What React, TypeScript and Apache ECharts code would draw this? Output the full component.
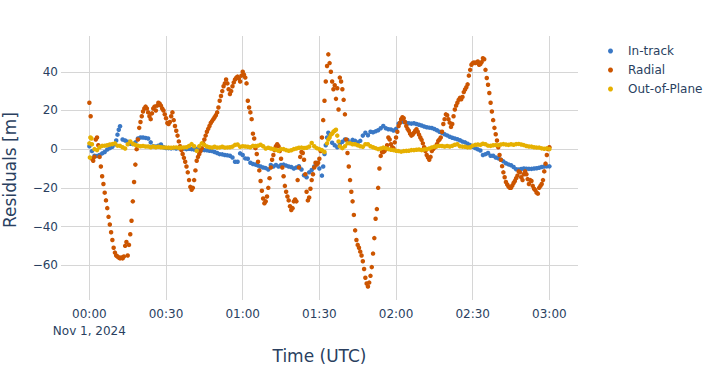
import React, { useEffect, useRef } from "react";
import * as echarts from "echarts";

// Time is in minutes after 2024-11-01 00:00 UTC
const seriesNames = ["In-track", "Radial", "Out-of-Plane"];
const seriesColors = ["#3a78c5", "#cc5500", "#e6b000"];
const xTickMinutes = [0, 30, 60, 90, 120, 150, 180];
const xTickLabels = ["00:00\nNov 1, 2024", "00:30", "01:00", "01:30", "02:00", "02:30", "03:00"];
const yTickValues = [-60, -40, -20, 0, 20, 40];

// In-track residuals, one sample per minute from 00:00
const inTrackValues = [
  1.5, -1, -3.4, -3.5, -3, -2.2, -1.5, -0.2, 0.5, 1.2,
  2.5, 7.5, 11.8, 5, 4.5, 3.8, 2.8, 2.6, 3.5, 5.5,
  6, 6, 5.8, 5.5, 3.5, 1.5, 1.3, 1.8, 2.4, 1,
  0.6, 0.5, 0.4, 0.6, 0.3, 0.5, 0.2, 0.3, 0, 0.2,
  0, -0.2, 0, -0.3, -0.4, -0.5, -0.6, -0.8, -1, -1.5,
  -2, -2.6, -2.7, -3, -3.2, -3.4, -4.3, -6.5, -6.5, -2.2,
  -3, -4.8, -5, -7, -7.7, -8, -8.5, -9, -9.5, -9.8,
  -10.5, -8.2, -9, -8.2, -9, -8.2, -8, -8.5, -9, -9.2,
  -10, -9.5, -8.8, -10.5, -13.5, -14.5, -12, -10.8, -9, -7.2,
  -10, -13.7, -2.5, 6, 7.7, 3.3, 2, 1, 2.5, 3.8,
  5, 4.7, 3.4, 4.8, 4.3, 3.4, 4.3, 7, 8.5, 7.2,
  9, 8.7, 9.2, 9.8, 10.8, 12, 10.8, 10.3, 10.2, 9.6,
  10.5, 13.2, 14.5, 14, 13.6, 13.4, 13.2, 13.4, 13, 12.6,
  12.2, 11.7, 11.3, 11.1, 10.9, 10.4, 9.8, 9, 8.4, 7.7,
  7.1, 6.4, 5.9, 5.5, 5.1, 4.6, 3.9, 3.5, 2.8, 2.1,
  1.2, 0.5, -0.1, -0.7, -3, -2.6, -2, -3.4, -3.4, -4.3,
  -4.7, -5.5, -6.3, -7.3, -7.9, -8.3, -9.2, -10.4, -10.5, -10.3,
  -10, -10.1, -10.2, -10.2, -10, -9.9, -9.6, -9.2, -9, -8.9, -8.9,
];
const inTrackExtraMinutes = [10.5, 11.5, 91.5, 92.5, 93.5];
const inTrackExtraValues = [4.5, 10, -9, 2, 8.5];

// Radial residuals, one sample per half minute from 00:00
const radialValues = [
  24, 17, -5, -6, -4, 5, 6, 2, -4, -9, -14, -18, -22.5, -26.5, -30.5, -35, -39, -43, -47, -51,
  -53.5, -55, -55.5, -56, -56.5, -56, -56.5, -55.5, -50, -48, -55, -49.5, -44, -37, -27, -17, -8, 0, 5, 11,
  14, 17, 19.5, 21, 22, 21, 19, 17, 15.5, 18.5, 21, 22, 20, 22.5, 24, 23.5, 22.5, 21, 20, 18,
  16, 13.5, 13, 14, 17, 19, 15, 12, 9.5, 7, 4, 1.5, -0.5, -2.5, -4.5, -6.5, -9, -12, -16, -19.5,
  -21, -20, -16, -11, -6, -4, -2.5, -1, 0.5, 3, 5, 7, 9, 10.5, 12, 13.5, 14.5, 15.5, 16.5, 17.5,
  19, 21.5, 25, 27.5, 30, 32.5, 34, 36, 34, 31, 28.5, 30, 32.5, 34.5, 36, 37, 37.5, 36.5, 35, 38,
  40, 38.5, 37, 34, 25, 21.5, 19, 15.5, 8, 5.5, 0.5, -2.5, -6.5, -11, -16.5, -21.5, -25.5, -28, -27, -24.5,
  -20, -15, -9.5, -5.5, -3, -0.5, 1.5, 2.5, 1.5, -1, -5, -9.5, -14, -19, -22, -24.5, -26.5, -29.5, -31.5, -30.5,
  -27, -26, -27, -16, -9.5, -4, -1.5, -2, -5.5, -13, -22, -26.5, -25, -20.5, -16, -13, -9.5, -7, -8, -7,
  -5, -1, 6, 15, 25, 35, 43, 49, 44.5, 40, 35, 31, 33, 26, 31.5, 20.5, 37, 35, 31, 25.5,
  18, 5, -2, -9, -16, -22, -27, -34, -42, -47, -49.5, -51, -53, -55, -58, -62, -66.5, -69.5, -71, -69,
  -65.5, -61, -54, -46, -36, -31, -20, -10, -3.5, -1.5, -1.5, -1, 0, 2, 6, 5, 2.5, 1, 0.5, 3.5,
  6, 9, 12, 13.5, 15.5, 16.5, 16, 14, 12, 10.5, 9.5, 8, 7, 7.5, 8.5, 9.5, 10.3, 9, 7.5, 6,
  4.8, 3, 1, -1, -3, -4.3, -5.5, -4, -1, 0, 0.8, 1.3, 2.5, 4.3, 5, 6, 9, 13, 15.5, 18,
  17.5, 15.5, 13.7, 11.5, 13, 17, 20.5, 22.5, 24, 25.5, 26.5, 25.8, 27, 29.5, 30.8, 32, 33.5, 38, 41, 43.6,
  44.5, 44.8, 44.5, 44.8, 45.3, 43.6, 44, 45, 47, 46.5, 41, 36.8, 33.3, 29, 24, 19.5, 15, 11, 7.7, 4.5,
  1, -3, -5.5, -8.8, -12, -14.5, -17, -18.3, -19.3, -20, -20, -18.8, -17.5, -16.5, -15, -13.7, -11.5, -12, -14.5, -16,
  -13, -11.5, -13, -15.5, -18, -16, -16.5, -19, -20.5, -21.2, -22.5, -23, -20, -19, -18, -16, -11.5, -7.5, -3, 0,
  1,
];

// Out-of-plane residuals, one sample per minute from 00:00
const outOfPlaneValues = [
  3, 2.5, 0, -0.5, 1, 1.7, 1.8, 2, 2.4, 2.6,
  3, 1.8, 1.7, 1, 0.3, 2.5, 4, 2.8, 2.2, 1.8,
  1.5, 1.6, 1.4, 1.4, 1, 1.4, 1, 1.2, 1, 0.9,
  0.8, 0.8, 0.7, 0.8, 0.9, 0.7, 0.8, 0.9, 1, 1.6,
  2.6, 1.5, -0.8, 1.5, 3, 2.2, 1.4, 1, 0.8, 1.2,
  0.8, 0.9, 1.2, 0.8, 0.9, 1, 1.3, 2.2, 2.4, 1.2,
  1.5, 1.4, 1.2, 1, 1.7, 1.6, 1.8, 2.3, 1.5, 0.3,
  0.7, 0.3, 0, -0.3, -0.8, 0, 0, -0.5, -0.8, -0.6,
  0, 0.3, 0.7, 0.8, 0.6, 0.7, 1.3, 3.2, 1.5, 0.5,
  0, -0.5, -1.5, 3, 6, 8, 9.5, 7, 1.5, 0.5,
  1.5, 3, 3, 2.5, 2.5, 2, 1.5, 1.2, 2.5, 2.5,
  1.5, 1, 0.5, 0, 0.3, 0.8, 0.5, 0, -0.3, -0.5,
  -0.8, -1, -1.3, -1, -0.9, -0.8, -0.5, -0.5, -0.3, -0.2,
  -0.5, -0.2, 0, 0.3, 0.9, 1.2, 1.5, 1.7, 1.6, 1.4,
  1.6, 1.4, 1.7, 2.3, 2.5, 1.5, 1.3, 1.2, 0.9, 1,
  1.8, 2.2, 2.4, 2.2, 2.8, 2.5, 1.8, 1.7, 2, 2.1,
  2, 2.4, 2.6, 2.4, 2.2, 2.5, 2.3, 2.6, 2.7, 2.4,
  2.1, 1.6, 1.4, 1.3, 1, 0.8, 0.8, 0.4, 0.2, 0.4, 0.1,
];
const outOfPlaneExtraMinutes = [0.2, 0.4, 0.8, 93.5, 94.5, 95.5, 96.5, 97.5];
const outOfPlaneExtraValues = [-4.3, 6, 5.5, 5, 7.5, 9, 10, 4];

const X_MIN = -11.1;
const X_MAX = 191.2;
const Y_MIN = -78;
const Y_MAX = 58.5;

function uniform(values: number[], step: number): number[][] {
  return values.map((v, i) => [i * step, v]);
}
function pairs(ts: number[], vs: number[]): number[][] {
  return ts.map((t, i) => [t, vs[i]]);
}

const FONT = "DejaVu Sans";
const TEXT = "#2a3f5f";
const GRID = "#d6d6d6";

export default function App() {
  const ref = useRef<HTMLDivElement>(null);
  useEffect(() => {
    document.body.style.margin = "0";
    if (!ref.current) return;
    const chart = echarts.init(ref.current, undefined, { renderer: "svg" });
    const inTrack = uniform(inTrackValues, 1).concat(pairs(inTrackExtraMinutes, inTrackExtraValues));
    const radial = uniform(radialValues, 0.5);
    const oop = uniform(outOfPlaneValues, 1).concat(pairs(outOfPlaneExtraMinutes, outOfPlaneExtraValues));
    const datasets = [inTrack, radial, oop];
    chart.setOption({
      animation: false,
      backgroundColor: "#ffffff",
      textStyle: { fontFamily: FONT },
      grid: { left: 61, right: 131, top: 36, bottom: 67 },
      legend: {
        orient: "vertical",
        left: 603,
        top: 39,
        itemWidth: 5,
        itemHeight: 5,
        itemGap: 5,
        icon: "circle",
        data: seriesNames,
        textStyle: { color: TEXT, fontSize: 12, fontFamily: FONT, lineHeight: 14, padding: [0, 0, 0, 10] },
      },
      xAxis: {
        type: "value",
        min: X_MIN,
        max: X_MAX,
        minInterval: 30,
        maxInterval: 30,
        axisLine: { show: false },
        axisTick: { show: false },
        splitLine: { show: true, showMinLine: false, showMaxLine: false, lineStyle: { color: GRID, width: 1 } },
        axisLabel: {
          color: TEXT,
          fontSize: 12,
          fontFamily: FONT,
          margin: 5,
          lineHeight: 17,
          showMinLabel: false,
          showMaxLabel: false,
          formatter: (v: number) => {
            const i = xTickMinutes.indexOf(Math.round(v * 1000) / 1000);
            return i >= 0 ? xTickLabels[i] : "";
          },
        },
        name: "Time (UTC)",
        nameLocation: "middle",
        nameGap: 47,
        nameTextStyle: { color: TEXT, fontSize: 17, fontFamily: FONT },
      },
      yAxis: {
        type: "value",
        min: Y_MIN,
        max: Y_MAX,
        minInterval: 20,
        maxInterval: 20,
        axisLine: { show: false },
        axisTick: { show: false },
        splitLine: { show: true, showMinLine: false, showMaxLine: false, lineStyle: { color: GRID, width: 1 } },
        axisLabel: {
          color: TEXT,
          fontSize: 12,
          fontFamily: FONT,
          margin: 3,
          showMinLabel: false,
          showMaxLabel: false,
          formatter: (v: number) => (yTickValues.indexOf(v) >= 0 ? String(v).replace("-", "\u2212") : ""),
        },
      },
      graphic: [
        {
          type: "text",
          x: 10,
          y: 170,
          rotation: Math.PI / 2,
          style: {
            text: "Residuals [m]",
            fill: TEXT,
            fontSize: 17,
            fontFamily: FONT,
            align: "center",
            verticalAlign: "middle",
          },
        },
      ],
      series: seriesNames.map((name, i) => ({
        name,
        type: "scatter",
        symbol: "circle",
        symbolSize: 4.5,
        data: datasets[i],
        itemStyle: { color: seriesColors[i], opacity: 1 },
        emphasis: { disabled: true },
      })),
    });
    return () => chart.dispose();
  }, []);
  return <div ref={ref} style={{ position: "fixed", left: 0, top: 0, width: 709, height: 369 }} />;
}
